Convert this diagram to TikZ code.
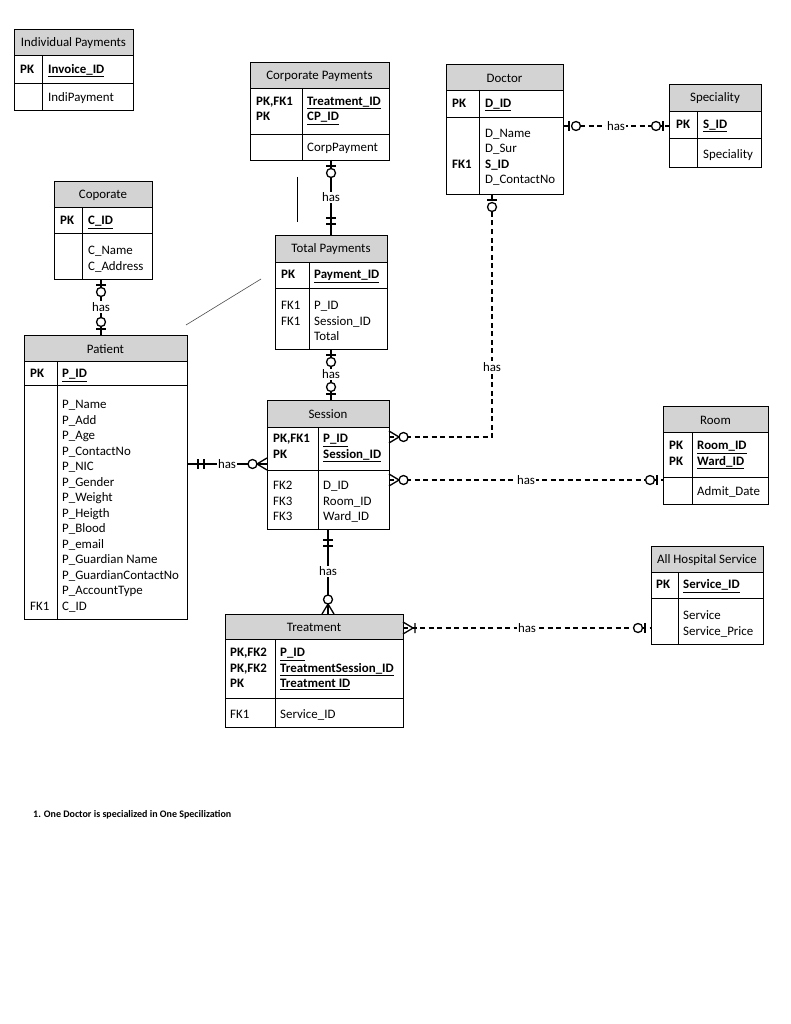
\documentclass[tikz,border=0pt]{standalone}
\usepackage{fontspec}
\setmainfont{Carlito}
\usetikzlibrary{calc}
\definecolor{hdrgray}{HTML}{D3D3D3}
\newcommand\fs{\fontsize{12.9}{15}\selectfont}
\newcommand\ukey[1]{\underline{\textbf{#1}}}
% #1 name, #2 x1, #3 y1, #4 x2, #5 y2, #6 header bottom, #7 key-row bottom, #8 divider x, #9 title
\newcommand\ertable[9]{%
  \fill[hdrgray] (#2,#3) rectangle (#4,#6);
  \draw[gridline] (#2,#6) -- (#4,#6) (#2,#7) -- (#4,#7) (#8,#6) -- (#8,#5);
  \node[tbl, minimum width={(#4-#2)*1pt}, minimum height={(#5-#3)*1pt}] (#1) at ({(#2+#4)/2},{(#3+#5)/2}) {};
  \node[ttl] (#1-t) at ({(#2+#4)/2},{(#3+#6)/2+1}) {#9};
}
% #1 name prefix, #2 style, #3 x, #4 y of first line, #5 list
\newcommand\rowsat[5]{%
  \foreach \t [count=\i] in {#5} \node[cell,#2] (#1\i) at (#3,{#4+1.5+15.5*(\i-1)}) {\t};
}
\begin{document}
\begin{tikzpicture}[x=1pt,y=-1pt,
  tbl/.style={draw, line width=0.9pt, inner sep=0pt, outer sep=0pt},
  gridline/.style={line width=0.9pt},
  ttl/.style={font=\fs, inner sep=0pt},
  cell/.style={font=\fs, anchor=west, inner sep=0pt, text height=8.5pt, text depth=2.5pt},
  keyc/.style={font=\fs\bfseries},
  conn/.style={line width=1.6pt},
  dconn/.style={line width=1.6pt, dash pattern=on 5pt off 3.5pt},
  sym/.style={solid, line width=1.3pt},
  lbl/.style={font=\fs, fill=white, inner sep=1pt},
  pics/zo/.style={code={\draw[sym] (6,-5)--(6,5); \draw[sym,fill=white] (13,0) circle (4.5);}},
  pics/oo/.style={code={\draw[sym] (11,-5)--(11,5) (17,-5)--(17,5);}},
  pics/zm/.style={code={\draw[sym] (0,-6)--(10,0)--(0,6); \draw[sym,fill=white] (14.5,0) circle (4.5);}},
  pics/om/.style={code={\draw[sym] (0,-6)--(10,0)--(0,6) (12,-5)--(12,5);}},
]
\fill[white] (0,0) rectangle (791,1024);
\useasboundingbox (0,0) rectangle (791,1024);

% Individual Payments
\ertable{ip}{14}{29}{133}{110}{55}{83}{42}{Individual Payments}
\rowsat{ipk}{keyc}{20}{69}{PK}
\rowsat{ipa}{}{48}{69}{\ukey{Invoice\_ID}}
\rowsat{ipb}{}{48}{97}{IndiPayment}

% Corporate Payments
\ertable{cp}{250}{62}{389}{160}{88}{134}{302}{Corporate Payments}
\rowsat{cpk}{keyc}{256}{101}{{PK,FK1},PK}
\rowsat{cpa}{}{307}{101}{\ukey{Treatment\_ID},\ukey{CP\_ID}}
\rowsat{cpb}{}{307}{147}{CorpPayment}

% Doctor
\ertable{doc}{446}{64}{563}{194}{90}{117}{479}{Doctor}
\rowsat{dk}{keyc}{452}{103}{PK}
\rowsat{da}{}{485}{103}{\ukey{D\_ID}}
\rowsat{db}{}{485}{133}{D\_Name,D\_Sur,\textbf{S\_ID},D\_ContactNo}
\rowsat{dfk}{keyc}{452}{164}{FK1}

% Speciality
\ertable{spec}{669}{84}{761}{167}{111}{138}{697}{Speciality}
\rowsat{sk}{keyc}{676}{124}{PK}
\rowsat{sa}{}{703}{124}{\ukey{S\_ID}}
\rowsat{sb}{}{703}{154}{Speciality}

% Coporate
\ertable{co}{54}{181}{152}{279}{207}{233}{82}{Coporate}
\rowsat{cok}{keyc}{60}{220}{PK}
\rowsat{coa}{}{88}{220}{\ukey{C\_ID}}
\rowsat{cob}{}{88}{250}{C\_Name,C\_Address}

% Total Payments
\ertable{tp}{275}{235}{387}{349}{262}{288}{309}{Total Payments}
\rowsat{tpk}{keyc}{281}{274}{PK}
\rowsat{tpa}{}{314}{274}{\ukey{Payment\_ID}}
\rowsat{tpf}{}{281}{305}{FK1,FK1}
\rowsat{tpb}{}{314}{305}{P\_ID,Session\_ID,Total}

% Patient
\ertable{pat}{24}{335}{187}{619}{361}{385}{57}{Patient}
\rowsat{pk}{keyc}{30}{373}{PK}
\rowsat{pa}{}{62}{373}{\ukey{P\_ID}}
\rowsat{pb}{}{62}{404}{P\_Name,P\_Add,P\_Age,P\_ContactNo,P\_NIC,P\_Gender,P\_Weight,P\_Heigth,P\_Blood,P\_email,P\_Guardian Name,P\_GuardianContactNo,P\_AccountType,C\_ID}
\rowsat{pf}{}{30}{605.5}{FK1}

% Session
\ertable{sess}{267}{400}{389}{529}{427}{470}{318}{Session}
\rowsat{sek}{keyc}{273}{438}{{PK,FK1},PK}
\rowsat{sea}{}{323}{438}{\ukey{P\_ID},\ukey{Session\_ID}}
\rowsat{sef}{}{273}{485}{FK2,FK3,FK3}
\rowsat{seb}{}{323}{485}{D\_ID,Room\_ID,Ward\_ID}

% Room
\ertable{room}{663}{406}{768}{504}{432}{477}{692}{Room}
\rowsat{rk}{keyc}{669}{445}{PK,PK}
\rowsat{ra}{}{697}{445}{\ukey{Room\_ID},\ukey{Ward\_ID}}
\rowsat{rb}{}{697}{491}{Admit\_Date}

% Treatment
\ertable{tr}{225}{614}{403}{727}{639}{698}{275}{Treatment}
\rowsat{tk}{keyc}{230}{652}{{PK,FK2},{PK,FK2},PK}
\rowsat{ta}{}{280}{652}{\ukey{P\_ID},\ukey{TreatmentSession\_ID},\ukey{Treatment ID}}
\rowsat{tf}{}{230}{714}{FK1}
\rowsat{tb}{}{280}{714}{Service\_ID}

% All Hospital Service
\ertable{ahs}{651}{546}{763}{644}{572}{598}{678}{All Hospital Service}
\rowsat{ak}{keyc}{656}{584}{PK}
\rowsat{aa}{}{683}{584}{\ukey{Service\_ID}}
\rowsat{ab}{}{683}{615}{Service,Service\_Price}

% stray strokes
\draw[line width=0.8pt] (297,177) -- (297,222);
\draw[line width=0.6pt, black!70] (186,325) -- (261,279);

% connectors
\draw[conn] (cp.south -| 331,0) -- node[lbl] (l1) {has} (tp.north -| 331,0);
\pic[rotate=-90] at (cp.south -| 331,0) {zo};
\pic[rotate=90] at (tp.north -| 331,0) {oo};

\draw[conn] (co.south -| 101,0) -- node[lbl] (l2) {has} (pat.north -| 101,0);
\pic[rotate=-90] at (co.south -| 101,0) {zo};
\pic[rotate=90] at (pat.north -| 101,0) {zo};

\draw[conn] (tp.south -| 331,0) -- node[lbl] (l3) {has} (sess.north -| 331,0);
\pic[rotate=-90] at (tp.south -| 331,0) {zo};
\pic[rotate=90] at (sess.north -| 331,0) {zo};

\draw[conn] (pat.east |- 0,464) -- node[lbl] (l4) {has} (sess.west |- 0,464);
\pic at (pat.east |- 0,464) {oo};
\pic[rotate=180] at (sess.west |- 0,464) {zm};

\draw[conn] (sess.south -| 328,0) -- node[lbl] (l5) {has} (tr.north -| 328,0);
\pic[rotate=-90] at (sess.south -| 328,0) {oo};
\pic[rotate=90] at (tr.north -| 328,0) {zm};

\draw[dconn] (sess.east |- 0,437) -| node[lbl, pos=0.644] (l6) {has} (doc.south -| 492,0);
\pic at (sess.east |- 0,437) {zm};
\pic[rotate=-90] at (doc.south -| 492,0) {zo};

\draw[dconn] (sess.east |- 0,480) -- node[lbl] (l7) {has} (room.west |- 0,480);
\pic at (sess.east |- 0,480) {zm};
\pic[rotate=180] at (room.west |- 0,480) {zo};

\draw[dconn] (doc.east |- 0,126) -- node[lbl] (l8) {has} (spec.west |- 0,126);
\pic at (doc.east |- 0,126) {zo};
\pic[rotate=180] at (spec.west |- 0,126) {zo};

\draw[dconn] (tr.east |- 0,628) -- node[lbl] (l9) {has} (ahs.west |- 0,628);
\pic at (tr.east |- 0,628) {om};
\pic[rotate=180] at (ahs.west |- 0,628) {zo};

% footnote
\node[anchor=west, inner sep=0pt, font=\fontsize{10}{12}\selectfont\bfseries] (note) at (33,815) {1. One Doctor is specialized in One Specilization};
\end{tikzpicture}
\end{document}
